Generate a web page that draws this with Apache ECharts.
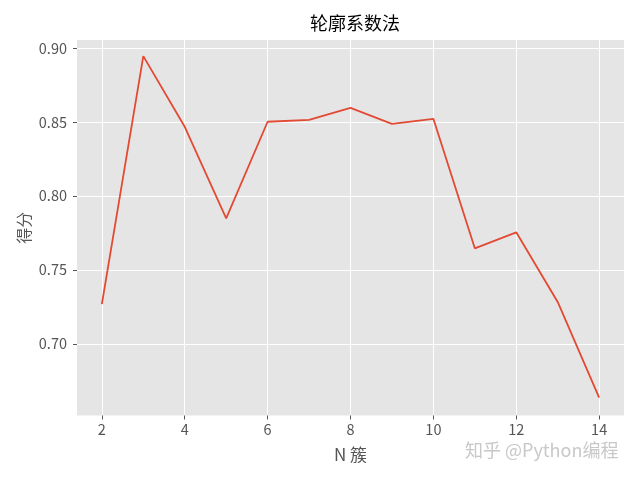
<!DOCTYPE html>
<html><head><meta charset="utf-8">
<script src="https://cdn.jsdelivr.net/npm/echarts@6/dist/echarts.min.js"></script>
<style>html,body{margin:0;padding:0;background:#fff}#c{width:640px;height:480px}</style>
</head><body><div id="c"></div>
<script>
const clusters = [2,3,4,5,6,7,8,9,10,11,12,13,14];
const scores = [0.7269,0.8946,0.8468,0.7848,0.8502,0.8515,0.8596,0.8488,0.8522,0.7646,0.7754,0.7283,0.6636];
const xTicks = [2,4,6,8,10,12,14];
const yTicks = [0.70,0.75,0.80,0.85,0.90];

const font = '"Noto Sans CJK SC", "Noto Sans", sans-serif';
const chart = echarts.init(document.getElementById('c'), null, {renderer:'canvas'});
chart.setOption({
  animation:false,
  backgroundColor:'#ffffff',
  title:{text:'轮廓系数法', left:350, top:9, textAlign:'center',
    textStyle:{fontFamily:font, fontSize:18, fontWeight:'normal', color:'#000'}},
  grid:{left:77, right:16, top:40, bottom:64.5, show:true, backgroundColor:'#E5E5E5', borderWidth:0},
  xAxis:{type:'value', min:1.4, max:14.6,
    name:'N 簇', nameLocation:'middle', nameGap:31, nameMoveOverlap:false,
    nameTextStyle:{fontFamily:font, fontSize:17, color:'#555'},
    axisLine:{show:false},
    axisTick:{show:true, length:4, lineStyle:{color:'#555'}, customValues:xTicks},
    axisLabel:{fontFamily:font, fontSize:14.5, color:'#555', margin:7, customValues:xTicks},
    splitLine:{show:true, lineStyle:{color:'#fff', width:1}}},
  yAxis:{type:'value', min:0.6515, max:0.9055,
    name:'得分', nameLocation:'middle', nameGap:45, nameRotate:90, nameMoveOverlap:false,
    nameTextStyle:{fontFamily:font, fontSize:16, color:'#555'},
    axisLine:{show:false},
    axisTick:{show:true, length:4, lineStyle:{color:'#555'}, customValues:yTicks},
    axisLabel:{fontFamily:font, fontSize:14.5, color:'#555', margin:10, customValues:yTicks,
      formatter:v=>v.toFixed(2)},
    splitLine:{show:true, lineStyle:{color:'#fff', width:1}}},
  graphic:[{type:'text', left:465, top:441,
    style:{text:'知乎 @Python编程', fontFamily:font, fontSize:18, fill:'#c8c8c8'}}],
  series:[{type:'line', data:clusters.map((c,i)=>[c,scores[i]]), showSymbol:false,
    lineStyle:{color:'#E24A33', width:1.8}, itemStyle:{color:'#E24A33'}}]
});
</script></body></html>
